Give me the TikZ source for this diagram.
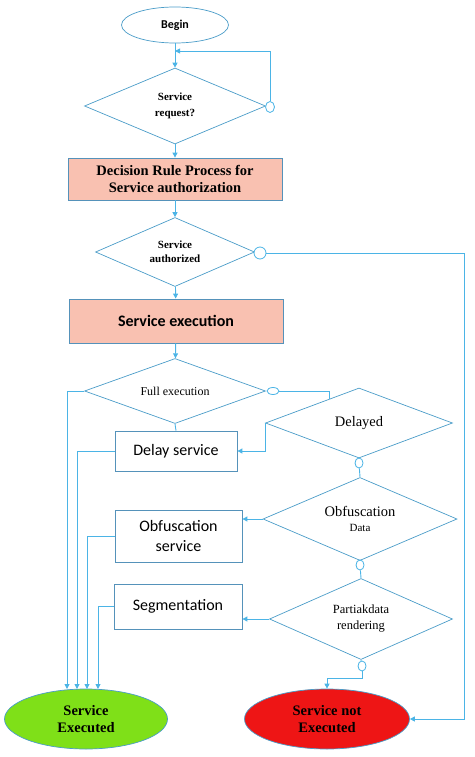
\documentclass[tikz,border=0pt]{standalone}
\usepackage{fontspec}
\setmainfont{Liberation Serif}
\newfontfamily\calfont{Carlito}
\usetikzlibrary{shapes.geometric, arrows.meta}

\definecolor{flowblue}{HTML}{4BB4E6}
\definecolor{edgeblue}{HTML}{4A9CC8}
\definecolor{boxblue}{HTML}{5592BA}
\definecolor{salmon}{HTML}{F9C1B1}
\definecolor{limegreen}{HTML}{7FE018}
\definecolor{alarmred}{HTML}{EE1515}

\begin{document}
\begin{tikzpicture}[x=1pt, y=-1pt,
    every node/.style={align=center, inner sep=0pt},
    decision/.style={diamond, draw=edgeblue, line width=0.7pt, aspect=2.3},
    process/.style={rectangle, draw=boxblue, line width=0.8pt},
    terminal/.style={ellipse, draw=edgeblue, line width=0.7pt},
    joint/.style={ellipse, draw=flowblue, line width=0.8pt, fill=white},
    arr/.style={draw=flowblue, line width=0.9pt, -{Triangle[length=5pt,width=5pt]}},
    flow/.style={draw=flowblue, line width=0.9pt}]
    \useasboundingbox (0,0) rectangle (474,757);

    % top part
    \node[terminal, minimum width=107pt, minimum height=36pt, font=\calfont\bfseries\fontsize{12}{12}\selectfont] (begin) at (175,25) {Begin};
    \node[decision, minimum width=181pt, minimum height=76pt, font=\bfseries\fontsize{11}{16}\selectfont] (req) at (175,106) {Service\\request?};
    \node[joint, minimum width=9pt, minimum height=11pt] (c1) at (270,107) {};
    \node[process, fill=salmon, minimum width=214pt, minimum height=42pt, font=\bfseries\fontsize{14.5}{17}\selectfont] (dec) at (175,179) {Decision Rule Process for\\Service authorization};
    \node[decision, minimum width=159pt, minimum height=69pt, font=\bfseries\fontsize{11}{14}\selectfont] (auth) at (175,252) {Service\\authorized};
    \node[joint, minimum width=12pt, minimum height=12pt] (c2) at (260,253) {};
    \node[process, fill=salmon, minimum width=214pt, minimum height=44pt, font=\calfont\bfseries\fontsize{16}{18}\selectfont] (exe) at (176,321) {Service execution};

    % execution modes
    \node[decision, minimum width=181pt, minimum height=65pt, font=\fontsize{12}{14}\selectfont] (full) at (175,391) {Full execution};
    \node[joint, minimum width=12pt, minimum height=7pt] (c3) at (273,391) {};
    \node[decision, minimum width=187pt, minimum height=70pt, font=\fontsize{14.5}{16}\selectfont] (dlyd) at (359,423) {Delayed};
    \node[process, minimum width=122pt, minimum height=40pt, font=\calfont\fontsize{16}{18}\selectfont] (dlyb) at (176,451) {Delay service};
    \node[joint, minimum width=8pt, minimum height=10pt] (c4) at (359,463) {};
    \node[decision, minimum width=194pt, minimum height=83pt, font=\fontsize{14.5}{15}\selectfont] (obfd) at (360,519) {Obfuscation\\{\fontsize{11}{11}\selectfont Data}};
    \node[process, minimum width=127pt, minimum height=52pt, font=\calfont\fontsize{16}{20}\selectfont] (obfb) at (178.5,536) {Obfuscation\\service};
    \node[joint, minimum width=8pt, minimum height=10pt] (c5) at (360,565) {};
    \node[decision, minimum width=183pt, minimum height=81pt, font=\fontsize{12.5}{16}\selectfont] (partd) at (361,619) {Partiakdata\\rendering};
    \node[process, minimum width=128pt, minimum height=45pt, font=\calfont\fontsize{16}{18}\selectfont] (segb) at (178,606.5) {Segmentation};
    \node[joint, minimum width=8pt, minimum height=10pt] (c6) at (362,666) {};

    % results
    \node[terminal, fill=limegreen, minimum width=163pt, minimum height=60pt, font=\bfseries\fontsize{14.5}{17}\selectfont] (exec) at (86,719) {Service\\Executed};
    \node[terminal, fill=alarmred, minimum width=165pt, minimum height=60pt, font=\bfseries\fontsize{14.5}{17}\selectfont] (notexec) at (327,719) {Service not\\Executed};

    \coordinate (j1) at (175,51);
    \coordinate (r1) at (464,253);
    \coordinate (j3) at (329,391);
    \coordinate (j3b) at (329,399);
    \coordinate (j6) at (362,678);
    \coordinate (e1) at (67,689);
    \coordinate (e2) at (77,689);
    \coordinate (e3) at (87,689);
    \coordinate (e4) at (98,689);

    \draw[arr] (begin) -- (req);
    \draw[arr] (c1.north) |- (j1);
    \draw[arr] (req) -- (dec);
    \draw[arr] (dec) -- (auth);
    \draw[arr] (c2.east) -- (r1) |- (notexec.east);
    \draw[arr] (auth) -- (exe);
    \draw[arr] (exe) -- (full);
    \draw[flow] (c3.east) -- (j3) -- (j3b);
    \draw[flow] (full.south) -- (dlyb.north);
    \draw[arr] (full.west) -| (e1);
    \draw[arr] (dlyd.west) |- (dlyb.east);
    \draw[arr] (dlyb.west) -| (e2);
    \draw[flow] (dlyd.south) -- (c4) -- (obfd.north);
    \draw[arr] (obfd.west) -- (obfd.west -| obfb.east);
    \draw[arr] (obfb.west) -| (e3);
    \draw[flow] (obfd.south) -- (c5) -- (partd.north);
    \draw[arr] (partd.west) -- (partd.west -| segb.east);
    \draw[arr] (segb.west) -| (e4);
    \draw[flow] (partd.south) -- (c6);
    \draw[arr] (c6.south) -- (j6) -| (notexec.north);
\end{tikzpicture}
\end{document}
